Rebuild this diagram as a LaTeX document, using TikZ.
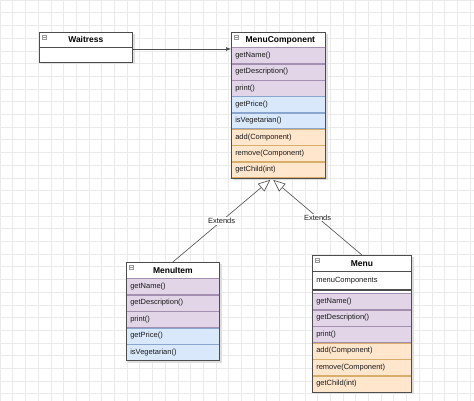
\documentclass[tikz,border=0pt]{standalone}
\usepackage{fontspec}
\setmainfont{Liberation Sans}
\usetikzlibrary{arrows.meta,backgrounds}
\definecolor{purpF}{HTML}{E1D5E7}
\definecolor{purpD}{HTML}{A390B0}
\definecolor{blueF}{HTML}{DAE8FC}
\definecolor{blueD}{HTML}{8AA6CF}
\definecolor{orF}{HTML}{FFE6CC}
\definecolor{orD}{HTML}{D9AE6A}
\definecolor{gridc}{HTML}{EAEAEA}
\definecolor{frame}{HTML}{4D4D4D}
\definecolor{txt}{HTML}{1A1A1A}
\tikzset{
  rowbox/.style={anchor=north west, minimum height=#1, inner ysep=0pt, inner xsep=4pt,
    align=left, text=txt, font=\fontsize{7.5}{9}\selectfont, line width=0.5pt},
  rowbox/.default=16pt,
  pu/.style={fill=purpF, draw=purpD},
  bl/.style={fill=blueF, draw=blueD},
  orr/.style={fill=orF, draw=orD},
  wh/.style={fill=white, draw=frame},
  head/.style={anchor=north west, draw=black, fill=white, inner sep=0pt, minimum height=#1,
    font=\fontsize{8.5}{10}\selectfont\bfseries, text=black, line width=0.7pt},
  head/.default=15.5pt,
  outline/.style={draw=frame, line width=0.7pt},
  shade/.style={fill=black!13},
  icon/.style={draw=gray!80, fill=white, line width=0.4pt},
  conn/.style={draw=frame, line width=0.6pt},
  genarrow/.style={conn, -{Triangle[open, length=12pt, width=10pt, fill=white]}},
  lbl/.style={fill=white, inner sep=1pt, text=txt, font=\fontsize{7.5}{9}\selectfont}
}
\newcommand{\clsicon}[1]{%
  \draw[icon] ([shift={(3,3)}]#1.north west) rectangle ++(4.5,4.5);
  \draw[gray!80, line width=0.4pt] ([shift={(4,5.25)}]#1.north west) -- ++(2.5,0);}
\begin{document}
\begin{tikzpicture}[x=1pt, y=-1pt]
\useasboundingbox (0,0) rectangle (474,401);
\begin{pgfonlayer}{background}
  \fill[white] (0,0) rectangle (474,401);
  \foreach \i in {0,...,37} \draw[gridc, line width=0.5pt] (\i*12.7, 0) -- (\i*12.7, 401);
  \foreach \j in {0,...,31} \draw[gridc, line width=0.5pt] (0, \j*12.7) -- (474, \j*12.7);
\end{pgfonlayer}

% Waitress
\node[head, minimum width=93pt, minimum height=15pt] (w) at (39,32) {Waitress};
\node[rowbox=15pt, wh, minimum width=93pt] (wbody) at (39,47) {};
\draw[outline] (w.north west) rectangle (wbody.south east);
\clsicon{w}

% MenuComponent
\node[head, minimum width=94pt] (mc) at (231,32) {\hspace*{4pt}MenuComponent};
\node[rowbox=15.8pt, pu, text width=86pt] (mc1) at (231,47.5) {getName()};
\node[rowbox=15.8pt, pu, text width=86pt] (mc2) at (mc1.south west) {getDescription()};
\node[rowbox=15.8pt, pu, text width=86pt] (mc3) at (mc2.south west) {print()};
\node[rowbox=15.8pt, bl, text width=86pt] (mc4) at (mc3.south west) {getPrice()};
\node[rowbox=15.8pt, bl, text width=86pt] (mc5) at (mc4.south west) {isVegetarian()};
\node[rowbox=15.8pt, orr, text width=86pt] (mc6) at (mc5.south west) {add(Component)};
\node[rowbox=15.8pt, orr, text width=86pt] (mc7) at (mc6.south west) {remove(Component)};
\node[rowbox=15.8pt, orr, text width=86pt] (mc8) at (mc7.south west) {getChild(int)};
\draw[outline] (mc.north west) rectangle (mc8.south east);
\clsicon{mc}

% MenuItem
\node[head, minimum width=93pt, minimum height=16pt] (mi) at (126,262) {MenuItem};
\node[rowbox, pu, text width=85pt] (mi1) at (126,278) {getName()};
\node[rowbox, pu, text width=85pt] (mi2) at (mi1.south west) {getDescription()};
\node[rowbox, pu, text width=85pt] (mi3) at (mi2.south west) {print()};
\node[rowbox, bl, text width=85pt] (mi4) at (mi3.south west) {getPrice()};
\node[rowbox, bl, text width=85pt] (mi5) at (mi4.south west) {isVegetarian()};
\draw[outline] (mi.north west) rectangle (mi5.south east);
\clsicon{mi}

% Menu
\node[head, minimum width=99pt, minimum height=16pt] (mn) at (312,255) {Menu};
\node[rowbox=18pt, wh, text width=91pt] (mna) at (312,271) {menuComponents};
\node[rowbox=3pt, wh, text width=91pt] (mnsep) at (mna.south west) {};
\node[rowbox, pu, text width=91pt] (mn1) at (mnsep.south west) {getName()};
\node[rowbox, pu, text width=91pt] (mn2) at (mn1.south west) {getDescription()};
\node[rowbox, pu, text width=91pt] (mn3) at (mn2.south west) {print()};
\node[rowbox, orr, text width=91pt] (mn4) at (mn3.south west) {add(Component)};
\node[rowbox, orr, text width=91pt] (mn5) at (mn4.south west) {remove(Component)};
\node[rowbox, orr, text width=91pt] (mn6) at (mn5.south west) {getChild(int)};
\draw[outline] (mn.north west) rectangle (mn6.south east);
\draw[frame, line width=0.7pt] (mna.south west) -- (mna.south east);
\clsicon{mn}

% shadows
\begin{pgfonlayer}{background}
  \fill[shade] ([shift={(2,2)}]w.north west) rectangle ([shift={(2,2)}]wbody.south east);
  \fill[shade] ([shift={(2,2)}]mc.north west) rectangle ([shift={(2,2)}]mc8.south east);
  \fill[shade] ([shift={(2,2)}]mi.north west) rectangle ([shift={(2,2)}]mi5.south east);
  \fill[shade] ([shift={(2,2)}]mn.north west) rectangle ([shift={(2,2)}]mn6.south east);
\end{pgfonlayer}

% connectors
\draw[conn, -{Latex[length=5pt, width=4pt]}] ([yshift=-2pt]wbody.north east) -- ([yshift=-1.5pt]mc1.north west);
\draw[genarrow] (mi.north) -- ([xshift=-8pt, yshift=-2pt]mc8.south) node[pos=0.5, lbl] {Extends};
\draw[genarrow] (mn.north) -- ([xshift=-5pt, yshift=-2pt]mc8.south) node[pos=0.5, lbl] {Extends};
\end{tikzpicture}
\end{document}
